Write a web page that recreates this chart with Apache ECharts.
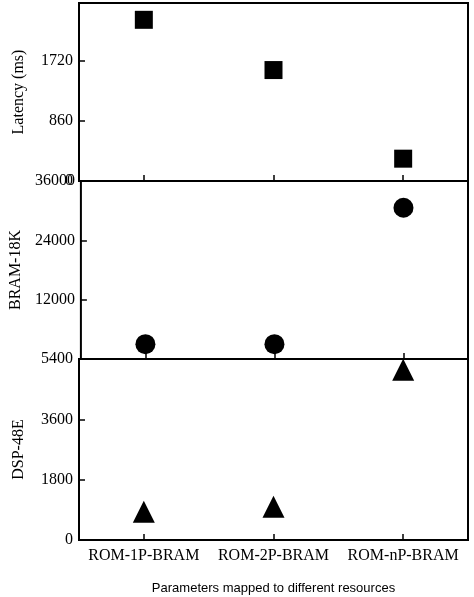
<!DOCTYPE html>
<html><head><meta charset="utf-8">
<script src="https://cdn.jsdelivr.net/npm/echarts@6/dist/echarts.min.js"></script>
<style>html,body{margin:0;padding:0;background:#fff}#c{width:474px;height:597px}</style>
</head><body><div id="c"></div>
<script>
const categories = ['ROM-1P-BRAM', 'ROM-2P-BRAM', 'ROM-nP-BRAM'];
const latency = [2310, 1590, 320];
const bram = [3000, 3000, 30600];
const dsp = [840, 990, 5080];

const chart = echarts.init(document.getElementById('c'));
const font = 'Liberation Serif, Times New Roman, serif';
const grids = [
  { left: 79, right: 6, top: 3, height: 178 },
  { left: 79, right: 6, top: 181, height: 178 },
  { left: 79, right: 6, top: 359, height: 181 }
].map(g => Object.assign(g, { show: true, borderColor: '#000', borderWidth: 2, backgroundColor: 'transparent' }));

const xAxes = [0, 1, 2].map(i => ({
  type: 'category', gridIndex: i, data: categories, boundaryGap: true,
  axisLine: { show: false },
  axisTick: { show: true, inside: true, alignWithLabel: true, length: 6, lineStyle: { color: '#000', width: 1.5 } },
  axisLabel: { show: i === 2, interval: 0, color: '#000', fontFamily: font, fontSize: 16, margin: 8 },
  name: i === 2 ? 'Parameters mapped to different resources' : '',
  nameLocation: 'middle', nameGap: 42,
  nameTextStyle: { fontFamily: 'Liberation Sans, Arial, sans-serif', fontSize: 13, color: '#000' }
}));

function yAx(i, name, max, interval) {
  return {
    type: 'value', gridIndex: i, min: 0, max: max, interval: interval, name: name,
    nameLocation: 'middle', nameGap: 52,
    nameTextStyle: { fontFamily: font, fontSize: 16, color: '#000' },
    axisLine: { show: false }, splitLine: { show: false },
    axisTick: { show: true, inside: true, length: 6, lineStyle: { color: '#000', width: 1.5 } },
    axisLabel: { color: '#000', fontFamily: font, fontSize: 16, showMaxLabel: i !== 0, showMinLabel: i !== 1, margin: 6,
      formatter: v => String(v) }
  };
}

chart.setOption({
  animation: false,
  grid: grids,
  xAxis: xAxes,
  yAxis: [yAx(0, 'Latency (ms)', 2551, 860), yAx(1, 'BRAM-18K', 36000, 12000), yAx(2, 'DSP-48E', 5400, 1800)],
  series: [
    { type: 'scatter', xAxisIndex: 0, yAxisIndex: 0, data: latency, symbol: 'rect', symbolSize: 18, itemStyle: { color: '#000', opacity: 1 } },
    { type: 'scatter', xAxisIndex: 1, yAxisIndex: 1, data: bram, symbol: 'circle', symbolSize: 20, itemStyle: { color: '#000', opacity: 1 } },
    { type: 'scatter', xAxisIndex: 2, yAxisIndex: 2, data: dsp, symbol: 'triangle', symbolSize: 22, itemStyle: { color: '#000', opacity: 1 } }
  ]
});
</script></body></html>
